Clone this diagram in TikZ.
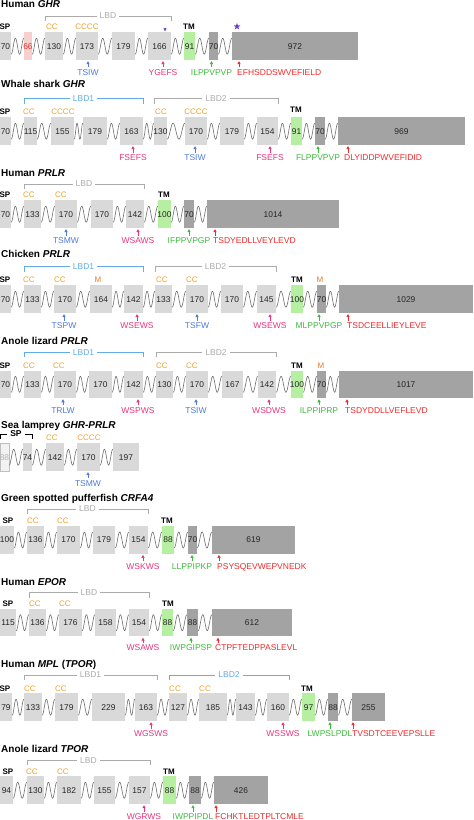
\documentclass[tikz,border=0pt]{standalone}
\usepackage{fontspec}
\setmainfont{Liberation Sans}
\usetikzlibrary{arrows.meta,shapes.geometric,calc}

\definecolor{boxgray}{HTML}{D9D9D9}
\definecolor{tailgray}{HTML}{A3A3A3}
\definecolor{tmgreen}{HTML}{B6EFA2}
\definecolor{spink}{HTML}{F6CFCF}
\definecolor{ccorange}{HTML}{F2A12A}
\definecolor{morange}{HTML}{EE7A2C}
\definecolor{siteblue}{HTML}{4F7BD9}
\definecolor{lbdblue}{HTML}{62ACE8}
\definecolor{lbdgray}{HTML}{ABABAB}
\definecolor{sitepink}{HTML}{E9347E}
\definecolor{sitegreen}{HTML}{3DBB3D}
\definecolor{sitered}{HTML}{EE2B2B}
\definecolor{markpurple}{HTML}{6B3FD8}
\definecolor{wavegray}{HTML}{6E6E6E}

\tikzset{
    lbox/.style = {rectangle, fill=boxgray, minimum height=27.5, inner sep=0, text=black!85, font=\fontsize{8.4}{10}\selectfont},
    tmbox/.style = {lbox, fill=tmgreen},
    dbox/.style = {lbox, fill=tailgray},
    pbox/.style = {lbox, fill=spink, text=sitered},
    fbox/.style = {lbox, fill=black!5, draw=black!25, line width=0.4pt, text=black!30},
    wavy/.style = {draw=wavegray, line width=0.6pt},
    headline/.style = {anchor=base west, inner sep=0, font=\fontsize{10}{12}\selectfont\bfseries},
    toplab/.style = {anchor=base, inner sep=0, font=\fontsize{8}{9.6}\selectfont},
    sptm/.style = {toplab, font=\fontsize{8}{9.6}\selectfont\bfseries},
    cc/.style = {toplab, text=ccorange},
    mlab/.style = {toplab, text=morange},
    sitelab/.style = {anchor=base, inner sep=0, font=\fontsize{8.5}{10}\selectfont},
    uparr/.style = {-{Triangle[width=3.2pt,length=3pt]}, line width=0.7pt, shorten <=1.5pt, shorten >=1pt},
    brk/.style = {line width=0.6pt},
    brklab/.style = {fill=white, inner xsep=3pt, inner ysep=0.5pt, font=\fontsize{8.5}{10}\selectfont},
}

% box: [style]{name}{left}{right}{length}
\newcommand{\bx}[5][lbox]{\node[#1, minimum width={#4-#3}] (#2) at ({(#3+#4)/2},\rowc) {\makebox[0pt]{#5}};}
% wavy linker between two boxes
\newcommand{\wv}[2]{\draw[wavy] let \p1=(#1.east), \p2=(#2.west) in
    plot[variable=\t, domain=0:1, samples=30, smooth] ({\x1+(\x2-\x1)*\t}, {\y1+8pt*sin(540*\t-90)});}
% bracket over domain: [colour]{name}{first box}{last box}{text}
\newcommand{\lbd}[5][lbdgray]{%
    \draw[brk, #1] (#3.west |- 0,\rowk) |- (#4.east |- 0,\rowb) -- (#4.east |- 0,\rowk);
    \path (#3.west |- 0,\rowb) -- (#4.east |- 0,\rowb) node[midway, brklab, text=#1] (#2) {#5};}
% motif below a box: {name}{colour}{x}{box}{text}
\newcommand{\site}[5]{%
    \node[sitelab, text=#2] (#1) at (#3,\rowl) {#5};
    \draw[uparr, #2] (#1.north) -- (#1.north |- #4.south);}
% box 1 motif, left aligned: {name}{arrow x}{text x}{box}{text}
\newcommand{\tail}[5]{%
    \node[sitelab, anchor=base west, text=sitered] (#1) at (#3,\rowl) {#5};
    \coordinate (#1x) at (#2,\rowl);
    \draw[uparr, sitered] (#1x |- #1.north) -- (#1x |- #4.south);}

\begin{document}
\begin{tikzpicture}[x=1pt, y=-1pt]
\path[use as bounding box, fill=white] (0,0) rectangle (474,820);

% Human GHR
\def\rowc{46.2}\def\rowt{29}\def\rowb{16}\def\rowk{21}\def\rowl{75}
\node[headline] (hgT) at (1,7.5) {Human \textit{GHR}};
\bx{hg1}{0}{11}{70}
\bx[pbox]{hg2}{24}{32}{66}
\bx{hg3}{45}{63}{130}
\bx{hg4}{76}{98}{173}
\bx{hg5}{112}{135}{179}
\bx{hg6}{148}{171}{166}
\bx[tmbox]{hg7}{184}{195}{91}
\bx[dbox]{hg8}{209}{218}{70}
\bx[dbox]{hg9}{232}{358}{972}
\foreach \a/\b in {hg1/hg2,hg2/hg3,hg3/hg4,hg4/hg5,hg5/hg6,hg6/hg7,hg7/hg8,hg8/hg9} {\wv{\a}{\b}}
\lbd{hgL}{hg3}{hg6}{LBD}
\node[sptm] (hgSP) at (5,\rowt) {SP};
\node[cc] (hgC1) at (52,\rowt) {CC};
\node[cc] (hgC2) at (87,\rowt) {CCCC};
\node[sptm] (hgTM) at (189,\rowt) {TM};
\coordinate (hgV) at (165,26);
\draw[uparr, markpurple] (hgV) -- (hgV |- hg6.north);
\node[star, star points=5, star point ratio=2.3, fill=markpurple, minimum size=7, inner sep=0] (hgS) at (237,26.5) {};
\site{hgs1}{siteblue}{88}{hg4}{TSIW}
\site{hgs2}{sitepink}{163}{hg6}{YGEFS}
\site{hgs3}{sitegreen}{211.5}{hg8}{ILPPVPVP}
\tail{hgs4}{239}{237}{hg9}{EFHSDDSWVEFIELD}

% Whale shark GHR
\def\rowc{131.2}\def\rowt{114}\def\rowb{98.5}\def\rowk{104}\def\rowl{160.7}
\node[headline] (wgT) at (1,87) {Whale shark \textit{GHR}};
\bx{wg1}{0}{11}{70}
\bx{wg2}{24}{37}{115}
\bx{wg3}{51}{74}{155}
\bx{wg4}{83}{107}{179}
\bx{wg5}{120}{143}{163}
\bx{wg6}{154}{167}{130}
\bx{wg7}{185}{207}{170}
\bx{wg8}{220}{244}{179}
\bx{wg9}{257}{278}{154}
\bx[tmbox]{wg10}{291}{302}{91}
\bx[dbox]{wg11}{315}{325}{70}
\bx[dbox]{wg12}{338}{465}{969}
\foreach \a/\b in {wg1/wg2,wg2/wg3,wg3/wg4,wg4/wg5,wg5/wg6,wg6/wg7,wg7/wg8,wg8/wg9,wg9/wg10,wg10/wg11,wg11/wg12} {\wv{\a}{\b}}
\lbd[lbdblue]{wgL1}{wg2}{wg5}{LBD1}
\lbd{wgL2}{wg6}{wg9}{LBD2}
\node[sptm] (wgSP) at (5,\rowt) {SP};
\node[cc] (wgC1) at (29,\rowt) {CC};
\node[cc] (wgC2) at (63,\rowt) {CCCC};
\node[cc] (wgC3) at (161,\rowt) {CC};
\node[cc] (wgC4) at (196,\rowt) {CCCC};
\node[sptm] (wgTM) at (296,112) {TM};
\site{wgs1}{sitepink}{133}{wg5}{FSEFS}
\site{wgs2}{siteblue}{195}{wg7}{TSIW}
\site{wgs3}{sitepink}{270}{wg9}{FSEFS}
\site{wgs4}{sitegreen}{318}{wg11}{FLPPVPVP}
\tail{wgs5}{348}{344}{wg12}{DLYIDDPWVEFIDID}

% Human PRLR
\def\rowc{214.2}\def\rowt{197}\def\rowb{184}\def\rowk{189.3}\def\rowl{243.3}
\node[headline] (hpT) at (1,176.7) {Human \textit{PRLR}};
\bx{hp1}{0}{11}{70}
\bx{hp2}{24}{41}{133}
\bx{hp3}{55}{77}{170}
\bx{hp4}{91}{113}{170}
\bx{hp5}{126}{144}{142}
\bx[tmbox]{hp6}{158}{171}{100}
\bx[dbox]{hp7}{184}{194}{70}
\bx[dbox]{hp8}{207}{339}{1014}
\foreach \a/\b in {hp1/hp2,hp2/hp3,hp3/hp4,hp4/hp5,hp5/hp6,hp6/hp7,hp7/hp8} {\wv{\a}{\b}}
\lbd{hpL}{hp2}{hp5}{LBD}
\node[sptm] (hpSP) at (5,\rowt) {SP};
\node[cc] (hpC1) at (29,\rowt) {CC};
\node[cc] (hpC2) at (61,\rowt) {CC};
\node[sptm] (hpTM) at (164,\rowt) {TM};
\site{hps1}{siteblue}{66}{hp3}{TSMW}
\site{hps2}{sitepink}{138}{hp5}{WSAWS}
\site{hps3}{sitegreen}{189}{hp7}{IFPPVPGP}
\tail{hps4}{215}{213}{hp8}{TSDYEDLLVEYLEVD}

% Chicken PRLR
\def\rowc{299.2}\def\rowt{282.3}\def\rowb{266.7}\def\rowk{271.7}\def\rowl{328.3}
\node[headline] (cpT) at (1,257.3) {Chicken \textit{PRLR}};
\bx{cp1}{0}{11}{70}
\bx{cp2}{24}{41}{133}
\bx{cp3}{54}{76}{170}
\bx{cp4}{90}{112}{164}
\bx{cp5}{124}{143}{142}
\bx{cp6}{155}{172}{133}
\bx{cp7}{186}{208}{170}
\bx{cp8}{221}{243}{170}
\bx{cp9}{257}{276}{145}
\bx[tmbox]{cp10}{291}{303}{100}
\bx[dbox]{cp11}{317}{326}{70}
\bx[dbox]{cp12}{339}{473}{1029}
\foreach \a/\b in {cp1/cp2,cp2/cp3,cp3/cp4,cp4/cp5,cp5/cp6,cp6/cp7,cp7/cp8,cp8/cp9,cp9/cp10,cp10/cp11,cp11/cp12} {\wv{\a}{\b}}
\lbd[lbdblue]{cpL1}{cp2}{cp5}{LBD1}
\lbd{cpL2}{cp6}{cp9}{LBD2}
\node[sptm] (cpSP) at (5,\rowt) {SP};
\node[cc] (cpC1) at (29,\rowt) {CC};
\node[cc] (cpC2) at (60,\rowt) {CC};
\node[mlab] (cpM1) at (98,\rowt) {M};
\node[cc] (cpC3) at (162,\rowt) {CC};
\node[cc] (cpC4) at (192,\rowt) {CC};
\node[sptm] (cpTM) at (297,\rowt) {TM};
\node[mlab] (cpM2) at (320,\rowt) {M};
\site{cps1}{siteblue}{64}{cp3}{TSPW}
\site{cps2}{sitepink}{137}{cp5}{WSEWS}
\site{cps3}{siteblue}{197}{cp7}{TSFW}
\site{cps4}{sitepink}{270}{cp9}{WSEWS}
\site{cps5}{sitegreen}{319}{cp11}{MLPPVPGP}
\tail{cps6}{348}{347}{cp12}{TSDCEELLIEYLEVE}

% Anole lizard PRLR
\def\rowc{384.3}\def\rowt{368}\def\rowb{352.3}\def\rowk{357.3}\def\rowl{413}
\node[headline] (apT) at (1,344) {Anole lizard \textit{PRLR}};
\bx{ap1}{0}{11}{70}
\bx{ap2}{24}{41}{133}
\bx{ap3}{54}{76}{170}
\bx{ap4}{89}{112}{170}
\bx{ap5}{124}{143}{142}
\bx{ap6}{156}{173}{130}
\bx{ap7}{186}{208}{170}
\bx{ap8}{222}{243}{167}
\bx{ap9}{258}{276}{142}
\bx[tmbox]{ap10}{291}{303}{100}
\bx[dbox]{ap11}{317}{326}{70}
\bx[dbox]{ap12}{339}{473}{1017}
\foreach \a/\b in {ap1/ap2,ap2/ap3,ap3/ap4,ap4/ap5,ap5/ap6,ap6/ap7,ap7/ap8,ap8/ap9,ap9/ap10,ap10/ap11,ap11/ap12} {\wv{\a}{\b}}
\lbd[lbdblue]{apL1}{ap2}{ap5}{LBD1}
\lbd{apL2}{ap6}{ap9}{LBD2}
\node[sptm] (apSP) at (5,\rowt) {SP};
\node[cc] (apC1) at (29,\rowt) {CC};
\node[cc] (apC2) at (59,\rowt) {CC};
\node[cc] (apC3) at (162,\rowt) {CC};
\node[cc] (apC4) at (192,\rowt) {CC};
\node[sptm] (apTM) at (297,\rowt) {TM};
\node[mlab] (apM) at (321,\rowt) {M};
\site{aps1}{siteblue}{63}{ap3}{TRLW}
\site{aps2}{sitepink}{138}{ap5}{WSPWS}
\site{aps3}{siteblue}{196}{ap7}{TSIW}
\site{aps4}{sitepink}{269}{ap9}{WSDWS}
\site{aps5}{sitegreen}{319}{ap11}{ILPPIPRP}
\tail{aps6}{347}{345}{ap12}{TSDYDDLLVEFLEVD}

% Sea lamprey GHR-PRLR
\def\rowc{457.2}\def\rowt{440}\def\rowb{434}\def\rowk{438.5}\def\rowl{486}
\node[headline] (slT) at (1,428.3) {Sea lamprey \textit{GHR-PRLR}};
\bx[fbox]{sl1}{0}{9}{88}
\bx{sl2}{23}{32}{74}
\bx{sl3}{46}{64}{142}
\bx{sl4}{77}{100}{170}
\bx{sl5}{113}{139}{197}
\foreach \a/\b in {sl1/sl2,sl2/sl3,sl3/sl4,sl4/sl5} {\wv{\a}{\b}}
\lbd[black]{slL}{sl1}{sl2}{\textbf{SP}}
\node[cc] (slC1) at (52,\rowt) {CC};
\node[cc] (slC2) at (89,\rowt) {CCCC};
\site{sls1}{siteblue}{88}{sl4}{TSMW}

% Green spotted pufferfish CRFA4
\def\rowc{540}\def\rowt{523.7}\def\rowb{509}\def\rowk{514}\def\rowl{569}
\node[headline] (pfT) at (1,501.3) {Green spotted pufferfish \textit{CRFA4}};
\bx{pf1}{0}{14}{100}
\bx{pf2}{27}{44}{136}
\bx{pf3}{57}{80}{170}
\bx{pf4}{93}{115}{179}
\bx{pf5}{129}{148}{154}
\bx[tmbox]{pf6}{162}{174}{88}
\bx[dbox]{pf7}{188}{197}{70}
\bx[dbox]{pf8}{212}{295}{619}
\foreach \a/\b in {pf1/pf2,pf2/pf3,pf3/pf4,pf4/pf5,pf5/pf6,pf6/pf7,pf7/pf8} {\wv{\a}{\b}}
\lbd{pfL}{pf2}{pf5}{LBD}
\node[sptm] (pfSP) at (8,\rowt) {SP};
\node[cc] (pfC1) at (33,\rowt) {CC};
\node[cc] (pfC2) at (63,\rowt) {CC};
\node[sptm] (pfTM) at (167,\rowt) {TM};
\site{pfs1}{sitepink}{143}{pf5}{WSKWS}
\site{pfs2}{sitegreen}{192}{pf7}{LLPPIPKP}
\tail{pfs3}{219}{217}{pf8}{PSYSQEVWEPVNEDK}

% Human EPOR
\def\rowc{622.7}\def\rowt{606}\def\rowb{592.7}\def\rowk{597.7}\def\rowl{650.7}
\node[headline] (epT) at (1,585) {Human \textit{EPOR}};
\bx{ep1}{0}{16}{115}
\bx{ep2}{29}{46}{136}
\bx{ep3}{59}{82}{176}
\bx{ep4}{95}{116}{158}
\bx{ep5}{129}{149}{154}
\bx[tmbox]{ep6}{162}{173}{88}
\bx[dbox]{ep7}{187}{198}{88}
\bx[dbox]{ep8}{212}{292}{612}
\foreach \a/\b in {ep1/ep2,ep2/ep3,ep3/ep4,ep4/ep5,ep5/ep6,ep6/ep7,ep7/ep8} {\wv{\a}{\b}}
\lbd{epL}{ep2}{ep5}{LBD}
\node[sptm] (epSP) at (8,\rowt) {SP};
\node[cc] (epC1) at (35,\rowt) {CC};
\node[cc] (epC2) at (65,\rowt) {CC};
\node[sptm] (epTM) at (168,\rowt) {TM};
\site{eps1}{sitepink}{143}{ep5}{WSAWS}
\site{eps2}{sitegreen}{191}{ep7}{IWPGIPSP}
\tail{eps3}{218}{215}{ep8}{CTPFTEDPPASLEVL}

% Human MPL (TPOR)
\def\rowc{707.2}\def\rowt{691}\def\rowb{675}\def\rowk{680}\def\rowl{736.3}
\node[headline] (mpT) at (1,667.3) {Human \textit{MPL} (\textit{TPOR})};
\bx{mp1}{0}{12}{79}
\bx{mp2}{24}{42}{133}
\bx{mp3}{55}{78}{179}
\bx{mp4}{92}{125}{229}
\bx{mp5}{135}{157}{163}
\bx{mp6}{169}{187}{127}
\bx{mp7}{199}{227}{185}
\bx{mp8}{236}{255}{143}
\bx{mp9}{267}{289}{160}
\bx[tmbox]{mp10}{302}{315}{97}
\bx[dbox]{mp11}{328}{338}{88}
\bx[dbox]{mp12}{352}{385}{255}
\foreach \a/\b in {mp1/mp2,mp2/mp3,mp3/mp4,mp4/mp5,mp5/mp6,mp6/mp7,mp7/mp8,mp8/mp9,mp9/mp10,mp10/mp11,mp11/mp12} {\wv{\a}{\b}}
\lbd{mpL1}{mp2}{mp5}{LBD1}
\lbd[lbdblue]{mpL2}{mp6}{mp9}{LBD2}
\node[sptm] (mpSP) at (5,\rowt) {SP};
\node[cc] (mpC1) at (30,\rowt) {CC};
\node[cc] (mpC2) at (61,\rowt) {CC};
\node[cc] (mpC3) at (175,\rowt) {CC};
\node[cc] (mpC4) at (205,\rowt) {CC};
\node[sptm] (mpTM) at (307,\rowt) {TM};
\site{mps1}{sitepink}{151}{mp5}{WGSWS}
\site{mps2}{sitepink}{283}{mp9}{WSSWS}
\site{mps3}{sitegreen}{330}{mp11}{LWPSLPDL}
\tail{mps4}{353}{352}{mp12}{TVSDTCEEVEPSLLE}

% Anole lizard TPOR
\def\rowc{790.2}\def\rowt{774}\def\rowb{760.3}\def\rowk{765.3}\def\rowl{819.5}
\node[headline] (atT) at (1,752) {Anole lizard \textit{TPOR}};
\bx{at1}{0}{13}{94}
\bx{at2}{27}{44}{130}
\bx{at3}{57}{81}{182}
\bx{at4}{94}{115}{155}
\bx{at5}{129}{150}{157}
\bx[tmbox]{at6}{163}{176}{88}
\bx[dbox]{at7}{189}{201}{88}
\bx[dbox]{at8}{214}{268}{426}
\foreach \a/\b in {at1/at2,at2/at3,at3/at4,at4/at5,at5/at6,at6/at7,at7/at8} {\wv{\a}{\b}}
\lbd{atL}{at2}{at5}{LBD}
\node[sptm] (atSP) at (8,\rowt) {SP};
\node[cc] (atC1) at (32,\rowt) {CC};
\node[cc] (atC2) at (63,\rowt) {CC};
\node[sptm] (atTM) at (169,\rowt) {TM};
\site{ats1}{sitepink}{144}{at5}{WGRWS}
\site{ats2}{sitegreen}{193}{at7}{IWPPIPDL}
\tail{ats3}{216}{215}{at8}{FCHKTLEDTPLTCMLE}
\end{tikzpicture}
\end{document}
